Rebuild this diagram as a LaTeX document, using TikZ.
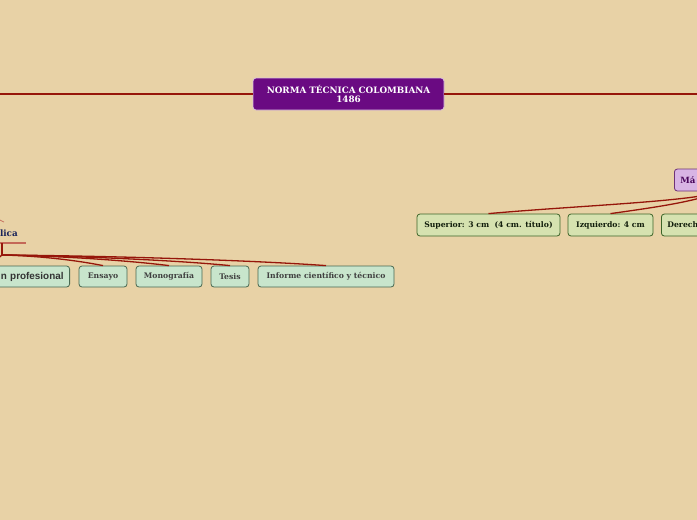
\documentclass[tikz,border=0pt]{standalone}
\usepackage{fontspec}
\setmainfont{DejaVu Serif}
\newfontfamily\palo[BoldFont={Liberation Sans Bold}]{Liberation Sans}
\usetikzlibrary{positioning}
\definecolor{fondo}{RGB}{232,210,166}
\definecolor{rama}{RGB}{150,22,10}
\definecolor{ramaclara}{RGB}{196,104,88}
\definecolor{morado}{RGB}{106,10,130}
\definecolor{lila}{RGB}{216,180,228}
\definecolor{lilaborde}{RGB}{110,50,120}
\definecolor{verde}{RGB}{200,229,204}
\definecolor{verdeborde}{RGB}{72,104,80}
\definecolor{oliva}{RGB}{214,226,176}
\definecolor{olivaborde}{RGB}{60,100,40}
\definecolor{tinta}{RGB}{26,36,90}
\tikzset{
    raiz/.style={fill=morado, draw=white!75!morado, line width=0.8pt, rounded corners=3pt,
        text=white, align=center, font=\bfseries\fontsize{8.8}{8.6}\selectfont,
        minimum width=191, minimum height=32, inner sep=0},
    hoja/.style={fill=verde, draw=verdeborde, line width=0.8pt, rounded corners=3pt,
        text=black!75, font=\bfseries\fontsize{7.7}{8}\selectfont,
        minimum height=21, inner xsep=6, inner ysep=0},
    margen/.style={hoja, fill=oliva, draw=olivaborde, text=black!70!olivaborde, minimum height=22},
    enlace/.style={draw=rama, line width=1.3pt},
}

\begin{document}
\begin{tikzpicture}[x=1pt, y=-1pt] % mapa de la norma
	\useasboundingbox (0,0) rectangle (697,520);
	\fill[fondo] (0,0) rectangle (697,520);
	\clip (0,0) rectangle (697,520);
	% nodo central
	\node[raiz] (ntc) at (348.5,94) {NORMA TÉCNICA COLOMBIANA\\1486};
	\coordinate (izq) at (-5,94);
	\coordinate (der) at (702,94);
	\draw[rama, line width=2.4pt] (ntc.west) -- (izq);
	\draw[rama, line width=2.4pt] (ntc.east) -- (der);
	% rama izquierda
	\node[anchor=south east, text width=40, align=right, inner xsep=8, inner ysep=6,
		text=tinta, font=\bfseries\fontsize{8.8}{9}\selectfont] (lica) at (26,243) {lica};
	\draw[ramaclara, line width=1.5pt] (lica.south west) -- (lica.south east);
	\coordinate (arriba) at (-8,215);
	\coordinate (entrada) at (4,222);
	\draw[ramaclara, line width=0.7pt] (arriba) .. controls +(5,3) and +(-3,-1) .. (entrada);
	\coordinate (base) at (2,243);
	\coordinate (nudo) at (2,255);
	\draw[enlace] (base) -- (nudo);
	\node[hoja, anchor=east, text width=150, align=right, text=black!80,
		font=\palo\bfseries\fontsize{9.9}{10}\selectfont] (prof) at (70,276.5) {n profesional};
	\node[hoja, minimum width=48] (ens) at (103,276.5) {Ensayo};
	\node[hoja, minimum width=66] (mono) at (169,276.5) {Monografía};
	\node[hoja, minimum width=38] (tesis) at (230,276.5) {Tesis};
	\node[hoja, minimum width=136] (inf) at (326,276.5) {Informe científico y técnico};
	\draw[enlace] (nudo) .. controls +(-4,4) and +(6,-6) .. (prof.north);
	\draw[enlace] (nudo) .. controls +(40,1) and +(-25,-5) .. (ens.north);
	\draw[enlace] (nudo) .. controls +(60,1) and +(-40,-5) .. (mono.north);
	\draw[enlace] (nudo) .. controls +(80,1) and +(-50,-5) .. (tesis.north);
	\draw[enlace] (nudo) .. controls +(120,1) and +(-70,-5) .. (inf.north);
	% rama derecha
	\node[hoja, fill=lila, draw=lilaborde, text=morado!70!black, anchor=west, text width=80,
		align=left, minimum height=22, font=\bfseries\fontsize{8.6}{9}\selectfont] (mas) at (674,180) {Má};
	\node[margen, minimum width=143] (sup) at (488.5,225) {Superior: 3 cm\ \ (4 cm. título)};
	\node[margen, minimum width=85] (izqm) at (610.5,225) {Izquierdo: 4 cm};
	\node[margen, anchor=west, text width=100, align=left] (derm) at (661,225) {Derech};
	\draw[enlace] (mas.south) .. controls +(-25,10) and +(90,-8) .. (sup.north);
	\draw[enlace] (mas.south) .. controls +(-25,10) and +(50,-7) .. (izqm.north);
	\draw[enlace] (mas.south) .. controls +(-2,10) and +(2,-10) .. (derm.north);
\end{tikzpicture}
\end{document}
